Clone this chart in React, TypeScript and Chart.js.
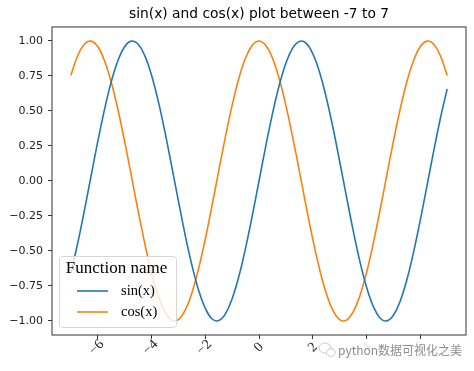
import React, { useEffect, useRef } from "react";
import { Chart, registerables } from "chart.js";

Chart.register(...registerables);

const xValues = [
  -7, -6.75, -6.5, -6.25, -6, -5.75, -5.5, -5.25, -5, -4.75, -4.5, -4.25, -4, -3.75, -3.5, -3.25,
  -3, -2.75, -2.5, -2.25, -2, -1.75, -1.5, -1.25, -1, -0.75, -0.5, -0.25, 0,
  0.25, 0.5, 0.75, 1, 1.25, 1.5, 1.75, 2, 2.25, 2.5, 2.75, 3, 3.25, 3.5, 3.75,
  4, 4.25, 4.5, 4.75, 5, 5.25, 5.5, 5.75, 6, 6.25, 6.5, 6.75, 7,
];

const sinValues = [
  -0.657, -0.45, -0.215, 0.033, 0.279, 0.508, 0.706, 0.859, 0.959, 0.999, 0.978, 0.895, 0.757, 0.572, 0.351, 0.108,
  -0.141, -0.382, -0.598, -0.778, -0.909, -0.984, -0.997, -0.949, -0.841, -0.682, -0.479, -0.247, 0,
  0.247, 0.479, 0.682, 0.841, 0.949, 0.997, 0.984, 0.909, 0.778, 0.598, 0.382, 0.141, -0.108, -0.351, -0.572,
  -0.757, -0.895, -0.978, -0.999, -0.959, -0.859, -0.706, -0.508, -0.279, -0.033, 0.215, 0.45, 0.657,
];

const cosValues = [
  0.754, 0.893, 0.977, 0.999, 0.96, 0.861, 0.709, 0.512, 0.284, 0.038, -0.211, -0.446, -0.654, -0.821, -0.936, -0.994,
  -0.99, -0.924, -0.801, -0.628, -0.416, -0.178, 0.071, 0.315, 0.54, 0.732, 0.878, 0.969, 1,
  0.969, 0.878, 0.732, 0.54, 0.315, 0.071, -0.178, -0.416, -0.628, -0.801, -0.924, -0.99, -0.994, -0.936, -0.821,
  -0.654, -0.446, -0.211, 0.038, 0.284, 0.512, 0.709, 0.861, 0.96, 0.999, 0.977, 0.893, 0.754,
];

const seriesNames = ["sin(x)", "cos(x)"];
const seriesColors = ["#1f77b4", "#ff7f0e"];
const xTicks = [-6, -4, -2, 0, 2, 4, 6];
const yTicks = [-1, -0.75, -0.5, -0.25, 0, 0.25, 0.5, 0.75, 1];
const titleText = "sin(x) and cos(x) plot between -7 to 7";
const legendTitle = "Function name";
const watermarkText = "python数据可视化之美";

const fmtMinus = (s: string) => s.replace("-", "\u2212");

const framePlugin = {
  id: "frame",
  afterDatasetsDraw(chart: any) {
    const { ctx, chartArea } = chart;
    ctx.save();
    ctx.strokeStyle = "#333333";
    ctx.lineWidth = 1;
    ctx.strokeRect(chartArea.left, chartArea.top, chartArea.right - chartArea.left, chartArea.bottom - chartArea.top);
    ctx.restore();
  },
};

const xLabelPlugin = {
  id: "xlabels",
  afterDraw(chart: any) {
    const { ctx, chartArea } = chart;
    const scale = chart.scales.x;
    ctx.save();
    ctx.fillStyle = "#1a1a1a";
    ctx.font = "14px 'Liberation Serif'";
    ctx.textAlign = "center";
    ctx.textBaseline = "middle";
    for (const t of scale.ticks) {
      const px = scale.getPixelForValue(t.value);
      ctx.save();
      ctx.translate(px - (t.value < 0 ? 1 : 0), chartArea.bottom + 12.5);
      ctx.rotate(-Math.PI / 4);
      ctx.fillText(fmtMinus(String(t.value)), 0, 0);
      ctx.restore();
    }
    ctx.restore();
  },
};

const legendPlugin = {
  id: "customLegend",
  afterDraw(chart: any) {
    const { ctx, chartArea } = chart;
    const w = 117;
    const h = 71;
    const x0 = chartArea.left + 7;
    const y0 = chartArea.bottom - 8 - h;
    ctx.save();
    ctx.beginPath();
    (ctx as any).roundRect(x0 + 0.5, y0 + 0.5, w, h, 3);
    ctx.fillStyle = "rgba(255,255,255,0.8)";
    ctx.fill();
    ctx.strokeStyle = "#d6d6d6";
    ctx.lineWidth = 1;
    ctx.stroke();
    ctx.fillStyle = "#000";
    ctx.textBaseline = "middle";
    ctx.textAlign = "center";
    ctx.font = "17px 'Liberation Serif'";
    ctx.fillText(legendTitle, x0 + w / 2 - 1, y0 + 13);
    ctx.textAlign = "left";
    ctx.font = "14.5px 'Liberation Serif'";
    chart.data.datasets.forEach((ds: any, i: number) => {
      const yy = y0 + 35 + i * 21;
      ctx.strokeStyle = ds.borderColor;
      ctx.lineWidth = 1.6;
      ctx.beginPath();
      ctx.moveTo(x0 + 18, yy);
      ctx.lineTo(x0 + 49, yy);
      ctx.stroke();
      ctx.fillStyle = "#000";
      ctx.fillText(ds.label, x0 + 62, yy);
    });
    ctx.restore();
  },
};

const watermarkPlugin = {
  id: "watermark",
  afterDraw(chart: any) {
    const { ctx } = chart;
    ctx.save();
    ctx.fillStyle = "rgba(255,255,255,0.88)";
    ctx.fillRect(336, 341, 130, 18);
    ctx.strokeStyle = "rgba(190,190,190,0.8)";
    ctx.lineWidth = 1;
    ctx.beginPath();
    ctx.ellipse(325, 348, 6, 5, 0, 0, Math.PI * 2);
    ctx.stroke();
    ctx.fillStyle = "rgba(255,255,255,0.9)";
    ctx.beginPath();
    ctx.ellipse(331, 352.5, 4.5, 3.8, 0, 0, Math.PI * 2);
    ctx.fill();
    ctx.stroke();
    ctx.fillStyle = "#8e8e8e";
    ctx.font = "12px 'Noto Sans CJK SC'";
    ctx.textAlign = "left";
    ctx.textBaseline = "middle";
    ctx.fillText(watermarkText, 338, 350);
    ctx.restore();
  },
};

export default function App() {
  const canvasRef = useRef<HTMLCanvasElement | null>(null);

  useEffect(() => {
    if (!canvasRef.current) return;
    const series = [sinValues, cosValues];
    const chart = new Chart(canvasRef.current, {
      type: "line",
      data: {
        datasets: series.map((vals, i) => ({
          label: seriesNames[i],
          data: xValues.map((x, j) => ({ x, y: vals[j] })),
          borderColor: seriesColors[i],
          backgroundColor: seriesColors[i],
          borderWidth: 1.6,
          pointRadius: 0,
          tension: 0.4,
          fill: false,
        })),
      },
      options: {
        animation: false,
        responsive: false,
        layout: { padding: { left: 0, right: 8, top: 0, bottom: 0 } },
        plugins: {
          legend: { display: false },
          tooltip: { enabled: false },
          title: {
            display: true,
            text: titleText,
            fullSize: false,
            color: "#000",
            font: { family: "'DejaVu Sans'", size: 13.8, weight: "normal", lineHeight: 1.2 },
            padding: { top: 6.6, bottom: 3.8 },
          },
        },
        scales: {
          x: {
            type: "linear",
            min: -7.7,
            max: 7.7,
            afterBuildTicks: (s: any) => {
              s.ticks = xTicks.map((v) => ({ value: v }));
            },
            afterFit: (s: any) => {
              s.height = 36;
            },
            border: { display: false },
            grid: { drawOnChartArea: false, drawTicks: true, tickLength: 4, tickColor: "#333", tickWidth: 1 },
            ticks: { display: false },
          },
          y: {
            type: "linear",
            min: -1.1,
            max: 1.1,
            afterBuildTicks: (s: any) => {
              s.ticks = yTicks.map((v) => ({ value: v }));
            },
            afterFit: (s: any) => {
              s.width = 52;
            },
            border: { display: false },
            grid: { drawOnChartArea: false, drawTicks: true, tickLength: 4, tickColor: "#333", tickWidth: 1 },
            ticks: {
              color: "#222222",
              padding: 5,
              font: { family: "'DejaVu Sans'", size: 11 },
              callback: (v: any) => fmtMinus(Number(v).toFixed(2)),
            },
          },
        },
      },
      plugins: [framePlugin, xLabelPlugin, legendPlugin, watermarkPlugin],
    } as any);
    return () => chart.destroy();
  }, []);

  return (
    <div style={{ position: "fixed", left: 0, top: 0, width: 474, height: 371, background: "#fff" }}>
      <canvas ref={canvasRef} width={474} height={371} style={{ display: "block", width: 474, height: 371 }} />
    </div>
  );
}
